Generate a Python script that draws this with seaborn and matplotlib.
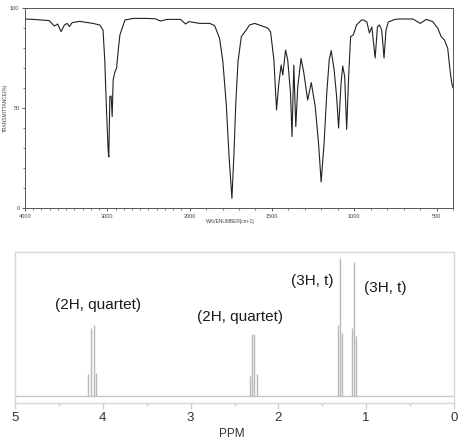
import numpy as np
import pandas as pd
import matplotlib
matplotlib.use("Agg")
import matplotlib.pyplot as plt
import seaborn as sns

# IR spectrum (wavenumber cm-1, transmittance %)
ir_wavenumber = [4000, 3900, 3800, 3706, 3644, 3603, 3562, 3521, 3488, 3460, 3427, 3337, 3174,
                 3092, 3052, 3031, 3010, 2990, 2982, 2969, 2953, 2941, 2929, 2908, 2887, 2867,
                 2847, 2806, 2785, 2683, 2519, 2417, 2356, 2274, 2110, 2049, 2009,
                 1939, 1878, 1848, 1818, 1798, 1777, 1761, 1743, 1731, 1720, 1706, 1686, 1656,
                 1636, 1605, 1577, 1526, 1508, 1488, 1472, 1458, 1444, 1434, 1417, 1404, 1387, 1378,
                 1367, 1355, 1343, 1323, 1307, 1283, 1261, 1237, 1217, 1201, 1183, 1167, 1152,
                 1140, 1122, 1107, 1095, 1080, 1070, 1058, 1046, 1034, 1022, 1006, 986, 956,
                 944, 923, 908, 893, 873, 859, 847, 833, 819, 807, 793, 753, 725, 644, 599,
                 563, 523, 492, 472, 452, 432, 417, 407, 400]
ir_transmittance = [94.5, 94.3, 94.0, 93.7, 91.0, 92.0, 88.2, 91.5, 92.3, 90.7, 92.7, 93.3, 92.3,
                    91.5, 89.0, 74.0, 49.0, 29.0, 25.5, 55.7, 56.0, 45.7, 64.0, 68.0, 70.0, 79.0,
                    86.5, 91.5, 94.0, 94.8, 94.8, 94.6, 93.5, 94.3, 94.3, 92.0, 93.2,
                    92.3, 92.3, 91.2, 84.8, 73.2, 51.5, 26.5, 4.8, 26.5, 51.5, 73.2, 85.7, 89.0,
                    91.5, 92.3, 91.5, 90.0, 88.0, 74.0, 49.0, 62.5, 71.5, 66.5, 79.0, 74.0, 57.5, 35.7,
                    71.5, 40.7, 60.7, 74.8, 68.0, 54.0, 62.7, 50.7, 32.5, 13.0, 32.5, 57.3, 74.0,
                    78.7, 69.0, 55.7, 40.0, 62.3, 71.0, 65.7, 39.3, 65.7, 85.7, 86.5, 91.5, 94.0,
                    94.0, 93.0, 87.5, 90.5, 75.0, 90.5, 91.5, 89.0, 75.0, 89.0, 93.0, 94.3, 94.5, 94.5, 92.3,
                    94.3, 93.2, 89.8, 85.7, 84.0, 79.8, 68.0, 62.3, 60.0]
ir_xticks = [4000, 3000, 2000, 1500, 1000, 500]
ir_yticks = [0, 50, 100]

# 1H NMR peaks (ppm, relative intensity)
nmr_ppm = [4.165, 4.135, 4.104, 4.074,
           2.327, 2.301, 2.275, 2.244,
           1.325, 1.298, 1.272,
           1.165, 1.139, 1.113]
nmr_height = [15.6, 49.0, 51.5, 16.7,
              14.3, 45.0, 45.0, 16.0,
              51.5, 100.0, 45.9,
              49.5, 97.6, 43.5]
nmr_labels = ["(2H, quartet)", "(2H, quartet)", "(3H, t)", "(3H, t)"]
nmr_label_x = [4.06, 2.443, 1.617, 0.778]
nmr_label_y = [66.0, 57.3, 83.7, 78.2]
nmr_xticks = [5, 4, 3, 2, 1, 0]

sns.set_theme(style="white")
plt.rcParams["font.family"] = ["Liberation Sans", "DejaVu Sans"]

fig = plt.figure(figsize=(4.74, 4.45), dpi=100)

# ---- IR panel (split scale: 4000-2000 at half scale)
def fwd(w):
    w = np.asarray(w, dtype=float)
    return np.where(w > 2000, 2000 + (w - 2000) / 2, w)

def inv(u):
    u = np.asarray(u, dtype=float)
    return np.where(u > 2000, 2000 + (u - 2000) * 2, u)

ax1 = fig.add_axes([25 / 474, 1 - 208 / 445, 428 / 474, 200 / 445])
ir = pd.DataFrame({"wavenumber": ir_wavenumber, "T": ir_transmittance})
sns.lineplot(data=ir, x="wavenumber", y="T", ax=ax1, color="#222222", linewidth=0.8, sort=False)
ax1.set_xscale("function", functions=(fwd, inv))
ax1.set_xlim(4000, 400)
ax1.set_ylim(0, 100)
ax1.set_xticks(ir_xticks)
ax1.set_xticklabels([str(t) for t in ir_xticks])
ax1.set_xticks(np.arange(400, 4001, 100), minor=True)
ax1.set_yticks(ir_yticks)
ax1.set_yticks(np.arange(0, 101, 10), minor=True)
ax1.tick_params(axis="both", which="major", direction="out", length=2.5, width=0.6,
                labelsize=4, pad=1.5, colors="#444444", bottom=True, left=True)
ax1.tick_params(axis="both", which="minor", direction="out", length=1.5, width=0.5,
                colors="#444444", bottom=True, left=True)
for s in ax1.spines.values():
    s.set_color("#555555")
    s.set_linewidth(0.7)
ax1.set_xlabel("WAVENUMBER[cm-1]", fontsize=3.5, color="#444444")
ax1.xaxis.set_label_coords(0.48, -0.055)
ax1.set_ylabel("TRANSMITTANCE(%)", fontsize=3.5, color="#444444")
ax1.yaxis.set_label_coords(-0.04, 0.5)

# ---- NMR panel
ax2 = fig.add_axes([15 / 474, 1 - 402.7 / 445, 439 / 474, 150.7 / 445])
ax2.axhline(0, color="#c8c8c8", linewidth=1.0)
ax2.vlines(nmr_ppm, 0, nmr_height, color="#b8b8b8", linewidth=1.0)
for lab, x, y in zip(nmr_labels, nmr_label_x, nmr_label_y):
    ax2.text(x, y, lab, ha="center", va="center", fontsize=11, color="#1a1a1a")
ax2.set_xlim(5, 0)
ax2.set_ylim(-5.1, 104.6)
ax2.set_xticks(nmr_xticks)
ax2.set_xticklabels([str(t) for t in nmr_xticks])
ax2.set_xticks(np.arange(0.5, 5, 1.0), minor=True)
ax2.set_yticks([])
ax2.tick_params(axis="x", which="major", direction="out", length=4, width=1,
                color="#d0d0d0", labelcolor="#333333", labelsize=9.5, pad=3, bottom=True)
ax2.tick_params(axis="x", which="minor", direction="out", length=2.5, width=1,
                color="#d0d0d0", bottom=True)
for s in ax2.spines.values():
    s.set_color("#d6d6d6")
    s.set_linewidth(1.0)
ax2.set_xlabel("PPM", fontsize=8.5, color="#333333")
ax2.xaxis.set_label_coords(0.495, -0.17)

fig.savefig("out.png", dpi=100)
